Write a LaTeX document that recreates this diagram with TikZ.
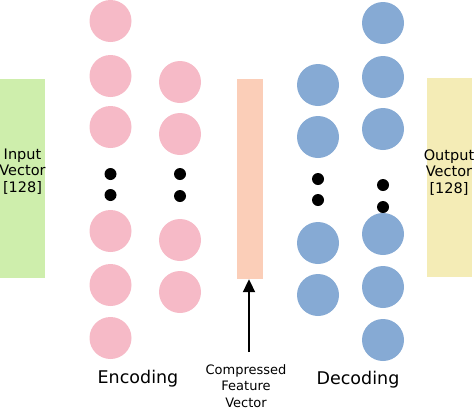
\documentclass[tikz,border=0pt]{standalone}
\usepackage{fontspec}
\setmainfont{DejaVu Sans}
\usetikzlibrary{arrows.meta}
\definecolor{ingreen}{RGB}{206,238,172}
\definecolor{outbeige}{RGB}{244,236,182}
\definecolor{peach}{RGB}{251,206,184}
\definecolor{encpink}{RGB}{246,186,199}
\definecolor{decblue}{RGB}{134,170,212}
\tikzset{
  enc/.style={circle,fill=encpink,minimum size=42pt,inner sep=0pt},
  dec/.style={circle,fill=decblue,minimum size=42pt,inner sep=0pt},
  dotn/.style={circle,fill=black,minimum size=12pt,inner sep=0pt},
  vecbox/.style={inner sep=0pt,align=center},
  lbl/.style={font=\fontsize{17.5}{20}\selectfont,inner sep=0pt},
  small/.style={font=\fontsize{14.5}{16}\selectfont,align=center,inner sep=0pt},
}
\begin{document}
\begin{tikzpicture}[x=1pt,y=-1pt]
\useasboundingbox (0,0) rectangle (474,410);
% vector boxes
\node[vecbox,fill=ingreen,minimum width=45pt,minimum height=199pt] (in) at (22.5,178.5) {};
\node[vecbox,fill=outbeige,minimum width=45pt,minimum height=199pt] (out) at (449.5,177.5) {};
\node[vecbox,fill=peach,minimum width=26pt,minimum height=200pt] (mid) at (250,179) {};
\node[small] (intxt) at (22.5,172) {Input\\Vector\\[1pt][128]};
\node[small] (outtxt) at (449,173) {Output\\Vector\\[1pt][128]};
% encoding column 1
\node[enc] (e11) at (110.5,21) {};
\node[enc] (e12) at (110.5,76) {};
\node[enc] (e13) at (110.5,127) {};
\node[dotn] (ed11) at (110.5,174) {};
\node[dotn] (ed12) at (110.5,195) {};
\node[enc] (e14) at (110.5,231) {};
\node[enc] (e15) at (110.5,285) {};
\node[enc] (e16) at (110.5,338) {};
% encoding column 2
\node[enc] (e21) at (180,82) {};
\node[enc] (e22) at (180,134) {};
\node[dotn] (ed21) at (180,174) {};
\node[dotn] (ed22) at (180,196) {};
\node[enc] (e23) at (180,240) {};
\node[enc] (e24) at (180,292) {};
% decoding column 1
\node[dec] (d11) at (318,85) {};
\node[dec] (d12) at (318,137) {};
\node[dotn] (dd11) at (318,179) {};
\node[dotn] (dd12) at (318,200) {};
\node[dec] (d13) at (318,243) {};
\node[dec] (d14) at (318,295) {};
% decoding column 2
\node[dec] (d21) at (383,23) {};
\node[dec] (d22) at (383,77) {};
\node[dec] (d23) at (383,129) {};
\node[dotn] (dd21) at (383,185) {};
\node[dotn] (dd22) at (383,207) {};
\node[dec] (d24) at (383,234) {};
\node[dec] (d25) at (383,287) {};
\node[dec] (d26) at (383,340) {};
% labels
\node[lbl] (enclbl) at (138,379) {Encoding};
\node[lbl] (declbl) at (358,380) {Decoding};
\node[font=\fontsize{13}{16.5}\selectfont,align=center,inner sep=0pt] (cfv) at (246,386) {Compressed\\Feature\\Vector};
\coordinate (arrstart) at (249,352);
\draw[line width=2pt,-{Triangle[width=12pt,length=13pt]}] (arrstart) -- (arrstart |- mid.south);
\end{tikzpicture}
\end{document}
